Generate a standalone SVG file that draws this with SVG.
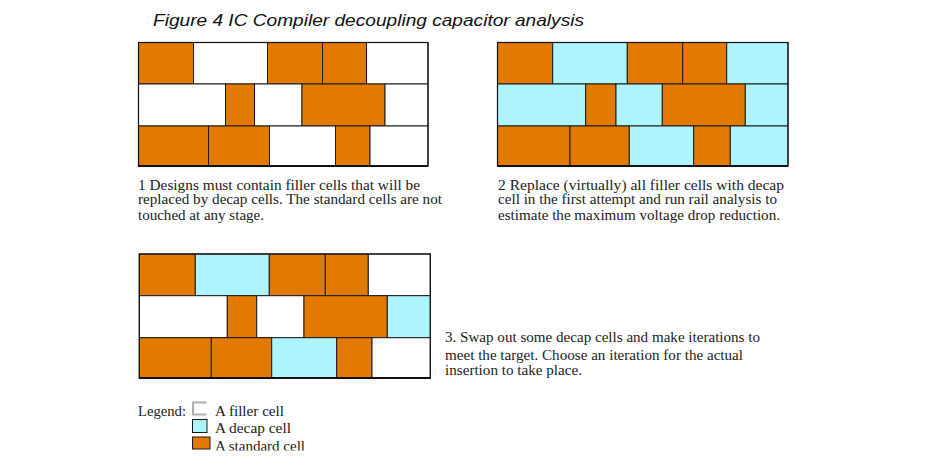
<svg xmlns="http://www.w3.org/2000/svg" width="945" height="470" viewBox="0 0 945 470">
<style>
.s{fill:#e37a00}.f{fill:#fff}.d{fill:#aef4ff}
.s,.f,.d{stroke:#1a1a1a;stroke-width:1}
.o{fill:none;stroke:#111;stroke-width:1.2}
.b{fill:none;stroke:#111;stroke-width:2.2}
.t{font-family:"Liberation Serif","Times New Roman",serif;font-size:13.6px;fill:#222}
.title{font-family:"Liberation Sans",Arial,sans-serif;font-style:italic;font-size:17px;fill:#111}
</style>
<defs><clipPath id="legclip"><rect x="130" y="395" width="200" height="55.5"/></clipPath></defs>
<rect width="945" height="470" fill="#fff"/>
<text class="title" x="153" y="26" textLength="431" lengthAdjust="spacingAndGlyphs">Figure 4 IC Compiler decoupling capacitor analysis</text>

<g id="panel1">
<rect class="s" x="138.5" y="42.5" width="55" height="41.5"/><rect class="f" x="193.5" y="42.5" width="74" height="41.5"/><rect class="s" x="267.5" y="42.5" width="55" height="41.5"/><rect class="s" x="322.5" y="42.5" width="44" height="41.5"/><rect class="f" x="366.5" y="42.5" width="61.5" height="41.5"/>
<rect class="f" x="138.5" y="84" width="87" height="42"/><rect class="s" x="225.5" y="84" width="29" height="42"/><rect class="f" x="254.5" y="84" width="47.5" height="42"/><rect class="s" x="302" y="84" width="83" height="42"/><rect class="f" x="385" y="84" width="43" height="42"/>
<rect class="s" x="138.5" y="126" width="70" height="40"/><rect class="s" x="208.5" y="126" width="61" height="40"/><rect class="f" x="269.5" y="126" width="66" height="40"/><rect class="s" x="335.5" y="126" width="34.5" height="40"/><rect class="f" x="370" y="126" width="58" height="40"/>
<rect class="o" x="138.5" y="42.5" width="289.5" height="123.5"/>
<path class="b" d="M138.5 166H428"/>
</g>
<g id="caption1" class="t"><text x="138" y="190" textLength="282" lengthAdjust="spacingAndGlyphs">1  Designs must contain filler cells that will be</text><text x="138" y="204" textLength="304" lengthAdjust="spacingAndGlyphs">replaced by decap cells. The standard cells are not</text><text x="138" y="220" textLength="126" lengthAdjust="spacingAndGlyphs">touched at any stage.</text></g>

<g id="panel2">
<rect class="s" x="497.5" y="42.5" width="55.2" height="41.5"/><rect class="d" x="552.7" y="42.5" width="74.6" height="41.5"/><rect class="s" x="627.3" y="42.5" width="55.4" height="41.5"/><rect class="s" x="682.7" y="42.5" width="44" height="41.5"/><rect class="d" x="726.7" y="42.5" width="61.3" height="41.5"/>
<rect class="d" x="497.5" y="84" width="88.2" height="42"/><rect class="s" x="585.7" y="84" width="30.3" height="42"/><rect class="d" x="616" y="84" width="46.3" height="42"/><rect class="s" x="662.3" y="84" width="83" height="42"/><rect class="d" x="745.3" y="84" width="42.7" height="42"/>
<rect class="s" x="497.5" y="126" width="72.5" height="40"/><rect class="s" x="570" y="126" width="59.3" height="40"/><rect class="d" x="629.3" y="126" width="64.4" height="40"/><rect class="s" x="693.7" y="126" width="36.6" height="40"/><rect class="d" x="730.3" y="126" width="57.7" height="40"/>
<rect class="o" x="497.5" y="42.5" width="290.5" height="123.5"/>
<path class="b" d="M497.5 166H788"/>
</g>
<g id="caption2" class="t"><text x="498" y="190" textLength="286" lengthAdjust="spacingAndGlyphs">2  Replace (virtually) all filler cells with  decap</text><text x="498" y="204" textLength="279" lengthAdjust="spacingAndGlyphs">cell in the first attempt and run rail analysis to</text><text x="498" y="220" textLength="282" lengthAdjust="spacingAndGlyphs">estimate the maximum voltage drop reduction.</text></g>

<g id="panel3">
<rect class="s" x="139.3" y="254" width="56" height="41.7"/><rect class="d" x="195.3" y="254" width="74" height="41.7"/><rect class="s" x="269.3" y="254" width="56" height="41.7"/><rect class="s" x="325.3" y="254" width="43" height="41.7"/><rect class="f" x="368.3" y="254" width="62" height="41.7"/>
<rect class="f" x="139.3" y="295.7" width="88" height="42"/><rect class="s" x="227.3" y="295.7" width="29.4" height="42"/><rect class="f" x="256.7" y="295.7" width="47.3" height="42"/><rect class="s" x="304" y="295.7" width="83.3" height="42"/><rect class="d" x="387.3" y="295.7" width="43" height="42"/>
<rect class="s" x="139.3" y="337.7" width="72" height="40.3"/><rect class="s" x="211.3" y="337.7" width="60.4" height="40.3"/><rect class="d" x="271.7" y="337.7" width="65" height="40.3"/><rect class="s" x="336.7" y="337.7" width="35.3" height="40.3"/><rect class="f" x="372" y="337.7" width="58.3" height="40.3"/>
<rect class="o" x="139.3" y="254" width="291" height="124"/>
<path class="b" d="M139.3 378H430.3"/>
</g>
<g id="caption3" class="t"><text x="445" y="342" textLength="315" lengthAdjust="spacingAndGlyphs">3. Swap out some decap cells and make iterations to</text><text x="445" y="359.5" textLength="298" lengthAdjust="spacingAndGlyphs">meet the target. Choose an iteration for the actual</text><text x="445" y="374.5" textLength="137" lengthAdjust="spacingAndGlyphs">insertion to take place.</text></g>

<g id="legend" clip-path="url(#legclip)">
<text class="t" x="138" y="415.5" textLength="48" lengthAdjust="spacingAndGlyphs">Legend:</text>
<path d="M206.5 402.5H193V414.5H206.5" fill="#fff" stroke="#b0b0b0" stroke-width="2"/>
<rect class="d" x="192.5" y="419.5" width="14.5" height="13"/>
<rect class="s" x="192.5" y="437" width="17.5" height="12"/>
<text class="t" x="215" y="415.5" textLength="69" lengthAdjust="spacingAndGlyphs">A filler cell</text>
<text class="t" x="215" y="432.5" textLength="76" lengthAdjust="spacingAndGlyphs">A decap cell</text>
<text class="t" x="215" y="450.5" textLength="90" lengthAdjust="spacingAndGlyphs">A standard cell</text>
</g>
</svg>
